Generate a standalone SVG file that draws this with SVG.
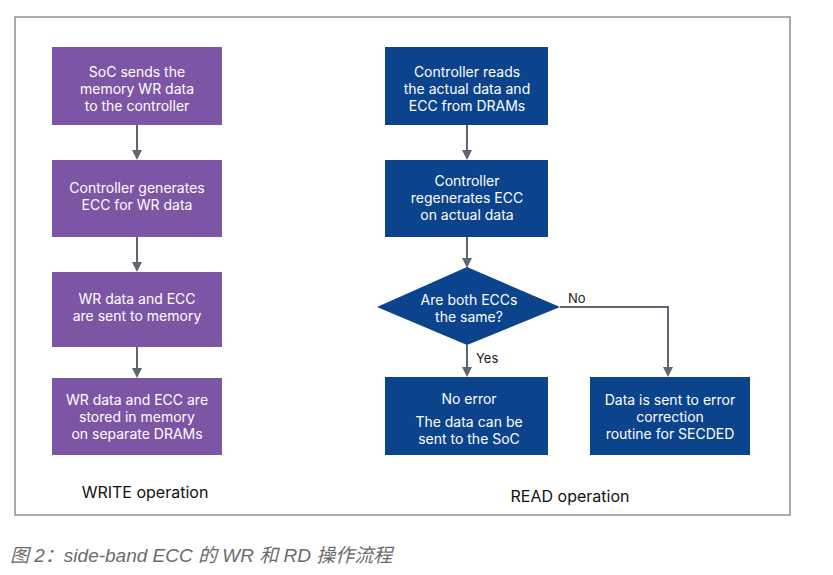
<svg xmlns="http://www.w3.org/2000/svg" width="833" height="575" viewBox="0 0 833 575">
<style>
.p{fill:#7d55a5}.b{fill:#0b438c}
.t{font-family:"Inter","Liberation Sans",sans-serif;font-size:14px;fill:#fff;text-anchor:middle}
.l{font-family:"Inter","Liberation Sans",sans-serif;font-size:16px;fill:#111;text-anchor:middle}
.s{font-family:"Inter","Liberation Sans",sans-serif;font-size:13px;fill:#222}
.c{stroke:#5f6670;stroke-width:2;fill:none;marker-end:url(#a)}
</style>
<defs><marker id="a" markerWidth="10" markerHeight="10" refX="8" refY="5" orient="auto" markerUnits="userSpaceOnUse"><path d="M0,0 L10,5 L0,10 Z" fill="#5f6670"/></marker></defs>
<rect width="833" height="575" fill="#fff"/>
<rect x="15" y="17" width="775" height="498" fill="#fff" stroke="#8a8f96" stroke-width="1.5"/>
<g id="connectors">
<path class="c" d="M137,125 V158"/><path class="c" d="M137,237 V270"/><path class="c" d="M137,347 V376"/>
<path class="c" d="M467,125 V158"/><path class="c" d="M467,237 V266"/><path class="c" d="M467,345 V375"/>
<path class="c" d="M560,307 H668 V375"/>
<text class="s" x="476" y="363">Yes</text><text class="s" x="568" y="303">No</text>
</g>
<g id="w1"><rect class="p" x="52" y="47" width="170" height="78"/><text class="t" x="137" y="77">SoC sends the</text><text class="t" x="137" y="94">memory WR data</text><text class="t" x="137" y="111">to the controller</text></g>
<g id="w2"><rect class="p" x="52" y="160" width="170" height="77"/><text class="t" x="137" y="193">Controller generates</text><text class="t" x="137" y="210">ECC for WR data</text></g>
<g id="w3"><rect class="p" x="52" y="272" width="170" height="75"/><text class="t" x="137" y="304">WR data and ECC</text><text class="t" x="137" y="321">are sent to memory</text></g>
<g id="w4"><rect class="p" x="52" y="378" width="170" height="77"/><text class="t" x="137" y="405">WR data and ECC are</text><text class="t" x="137" y="422">stored in memory</text><text class="t" x="137" y="439">on separate DRAMs</text></g>
<g id="r1"><rect class="b" x="385" y="47" width="163" height="78"/><text class="t" x="467" y="77">Controller reads</text><text class="t" x="467" y="94">the actual data and</text><text class="t" x="467" y="111">ECC from DRAMs</text></g>
<g id="r2"><rect class="b" x="385" y="160" width="163" height="77"/><text class="t" x="467" y="186">Controller</text><text class="t" x="467" y="203">regenerates ECC</text><text class="t" x="467" y="220">on actual data</text></g>
<g id="d"><polygon class="b" points="467,267 560,307 467,345 377,307"/><text class="t" x="469" y="305">Are both ECCs</text><text class="t" x="469" y="322">the same?</text></g>
<g id="r3"><rect class="b" x="385" y="377" width="163" height="78"/><text class="t" x="469" y="404">No error</text><text class="t" x="469" y="427">The data can be</text><text class="t" x="469" y="444">sent to the SoC</text></g>
<g id="r4"><rect class="b" x="590" y="377" width="160" height="78"/><text class="t" x="670" y="405">Data is sent to error</text><text class="t" x="670" y="422">correction</text><text class="t" x="670" y="439">routine for SECDED</text></g>
<text class="l" x="145" y="498">WRITE operation</text>
<text class="l" x="570" y="502">READ operation</text>
<text x="10" y="562" style="font-family:'Liberation Sans','Noto Sans CJK SC',sans-serif;font-size:19px;font-style:italic;fill:#6b6b6b">图 2：side-band ECC 的 WR 和 RD 操作流程</text>
</svg>
